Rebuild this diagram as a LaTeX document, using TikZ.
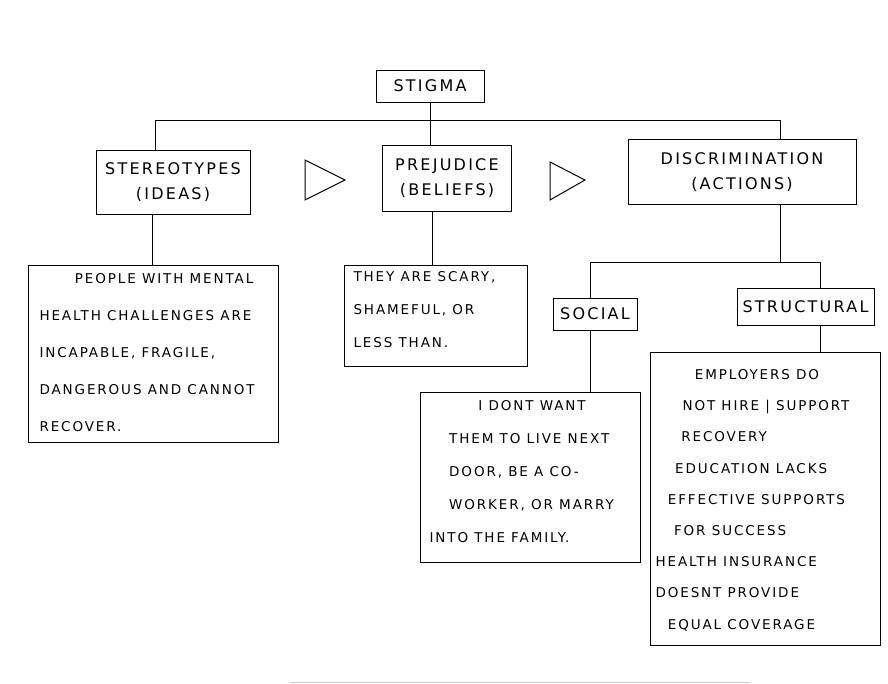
\documentclass[tikz,border=0pt]{standalone}
\usepackage{fontspec}
\setmainfont{DejaVu Sans}[LetterSpace=14]
\begin{document}
\begin{tikzpicture}[x=1pt,y=-1pt,
  bx/.style={draw,line width=1pt,inner sep=0pt},
  ln/.style={line width=1pt},
  tx/.style={align=left,anchor=north west},
  hd/.style={font=\fontsize{16}{25}\selectfont,align=center}]
\useasboundingbox (0,0) rectangle (888,683);
\fill[white] (0,0) rectangle (888,683);
% headers
\node[bx,minimum width=108pt,minimum height=32pt,hd] (stigma) at (430,86) {STIGMA};
\node[bx,minimum width=154pt,minimum height=64pt,hd] (ster) at (173,182) {STEREOTYPES\\(IDEAS)};
\node[bx,minimum width=129pt,minimum height=66pt,hd] (prej) at (447,178) {PREJUDICE\\(BELIEFS)};
\node[bx,minimum width=228pt,minimum height=65pt,hd] (disc) at (742,172) {DISCRIMINATION\\(ACTIONS)};
\coordinate (j) at (430,120);
\draw[ln] (stigma.south) -- (j);
\draw[ln] (155,120) -- (780,120);
\draw[ln] (155,120) -- (155,150);
\draw[ln] (j) -- (prej.north -| j);
\draw[ln] (780,120) -- (disc.north -| 780,0);
% triangles
\draw[ln] (305,160) -- (305,200) -- (345,180) -- cycle;
\draw[ln] (550,162) -- (550,200) -- (585,180) -- cycle;
% text boxes
\node[bx,minimum width=250pt,minimum height=177pt] (b1) at (153,353.5) {};
\node[tx,font=\fontsize{13.5}{37}\selectfont] at (36,270) {\qquad\, PEOPLE WITH MENTAL\\HEALTH CHALLENGES ARE\\INCAPABLE, FRAGILE,\\DANGEROUS AND CANNOT\\RECOVER.};
\draw[ln] (152,214) -- (b1.north -| 152,0);
\node[bx,minimum width=183pt,minimum height=101pt] (b2) at (435.5,315.5) {};
\node[tx,font=\fontsize{13.5}{33}\selectfont] at (350,268) {THEY ARE SCARY,\\SHAMEFUL, OR\\LESS THAN.};
\draw[ln] (432,211) -- (b2.north -| 432,0);
% social / structural
\node[bx,minimum width=84pt,minimum height=32pt,hd] (soc) at (595,314) {SOCIAL};
\node[bx,minimum width=137pt,minimum height=37pt,hd] (str) at (805.5,306.5) {STRUCTURAL};
\draw[ln] (780,205) -- (780,262);
\draw[ln] (590,262) -- (820,262);
\draw[ln] (590,262) -- (soc.north -| 590,0);
\draw[ln] (820,262) -- (str.north -| 820,0);
\node[bx,minimum width=220pt,minimum height=170pt] (b3) at (530,477) {};
\node[tx,font=\fontsize{13.5}{33}\selectfont] at (426,397) {\qquad\quad\, I DONT WANT\\\quad\ THEM TO LIVE NEXT\\\quad\ DOOR, BE A CO-\\\quad\ WORKER, OR MARRY\\INTO THE FAMILY.};
\draw[ln] (590,330) -- (b3.north -| 590,0);
\node[bx,minimum width=230pt,minimum height=293pt] (b4) at (765,498.5) {};
\node[tx,font=\fontsize{13.5}{31.2}\selectfont] at (652,366) {\qquad\ \ EMPLOYERS DO\\\qquad NOT HIRE | SUPPORT\\\quad\ \ RECOVERY\\\quad\ EDUCATION LACKS\\\ \ EFFECTIVE SUPPORTS\\\ \ \ FOR SUCCESS\\HEALTH INSURANCE\\DOESNT PROVIDE\\\ \ EQUAL COVERAGE};
\draw[ln] (820,325) -- (b4.north -| 820,0);
\draw[gray!40,line width=1pt] (290,682) -- (750,682);
\end{tikzpicture}
\end{document}
